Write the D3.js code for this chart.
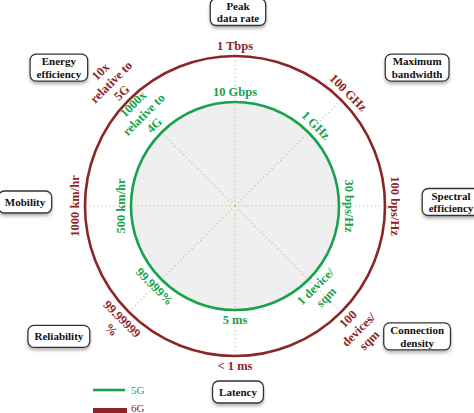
<!DOCTYPE html>
<html><head><meta charset="utf-8">
<script src="https://cdn.jsdelivr.net/npm/d3@7"></script>
<style>body{margin:0;background:#fff} svg{display:block}</style>
</head><body><svg id="c" width="474" height="413"></svg>
<script>
// ---- data ----
const metrics = ["Peak|data rate","Maximum|bandwidth","Spectral|efficiency","Connection|density","Latency","Reliability","Mobility","Energy|efficiency"];
const generations = ["5G","6G"];
const values5G = ["10 Gbps","1 GHz","30 bps/Hz","1 device/|sqm","5 ms","99.999%","500 km/hr","1000x|relative to|4G"];
const values6G = ["1 Tbps","100 GHz","100 bps/Hz","100|devices/|sqm","< 1 ms","99.99999|%","1000 km/hr","10x|relative to|5G"];

// ---- layout ----
const W = 474, H = 413, cx = 235, cy = 206;
const FONT = "'Liberation Serif','Times New Roman',serif";
const svg = d3.select("#c");
const angle = d3.scalePoint().domain(metrics).range([0, 315]);
const radius = d3.scaleOrdinal().domain(generations).range([104, 150]);
const color = d3.scaleOrdinal().domain(generations).range(["#17a24b", "#8c2626"]);
const valuesBy = {"5G": values5G, "6G": values6G};

const defs = svg.append("defs");
const f = defs.append("filter").attr("id","sh").attr("x","-20%").attr("y","-20%").attr("width","140%").attr("height","160%");
f.append("feDropShadow").attr("dx",0).attr("dy",2.5).attr("stdDeviation",1.6).attr("flood-color","#888").attr("flood-opacity",0.6);

const rad = a => a * Math.PI / 180;
const px = (a, d) => cx + d * Math.sin(rad(a));
const py = (a, d) => cy - d * Math.cos(rad(a));

// grey disk
svg.append("circle").attr("cx",cx).attr("cy",cy).attr("r",radius("5G")).attr("fill","#efefef");

// spokes
svg.append("g").selectAll("line").data(metrics).join("line")
  .attr("x1",cx).attr("y1",cy)
  .attr("x2",d=>px(angle(d),radius("6G"))).attr("y2",d=>py(angle(d),radius("6G")))
  .attr("stroke","#c4c48a").attr("stroke-width",1.2).attr("stroke-dasharray","1.2,2.8");

// rings
svg.append("g").selectAll("circle").data(generations).join("circle")
  .attr("cx",cx).attr("cy",cy).attr("r",d=>radius(d))
  .attr("fill","none").attr("stroke",d=>color(d)).attr("stroke-width",2.6);

// value labels
function placeLabel(g, text, a, r, col){
  const lines = text.split("|");
  const n = lines.length;
  const bottom = a > 90 && a < 270;
  let rot = a; if (bottom) rot = a - 180; else if (a >= 270) rot = a - 360;
  const lh = 15, gap = 10;
  lines.forEach((ln, i) => {
    const k = bottom ? i : (n - 1 - i);
    const d = r + gap + k * lh;
    g.append("text")
      .attr("transform", `translate(${px(a,d)},${py(a,d)}) rotate(${rot})`)
      .attr("text-anchor","middle").attr("dominant-baseline","central")
      .attr("font-family",FONT).attr("font-weight","bold").attr("font-size",12.5)
      .attr("fill",col).text(ln);
  });
}
const lab = svg.append("g");
generations.forEach(gen => {
  metrics.forEach((m, i) => placeLabel(lab, valuesBy[gen][i], angle(m), radius(gen), color(gen)));
});

// metric boxes
const bcx = 238, bcy = 202, bW = 213, bH = 190;
const boxes = svg.append("g");
metrics.forEach(m => {
  const a = angle(m), s = Math.sin(rad(a)), c = Math.cos(rad(a));
  const x = bcx + bW * Math.sign(s) * Math.sqrt(Math.abs(s) < 1e-9 ? 0 : Math.abs(s));
  const y = bcy - bH * c;
  const g = boxes.append("g").attr("transform",`translate(${x},${y})`);
  const lines = m.split("|");
  const lh = 12.5;
  const rect = g.append("rect");
  lines.forEach((ln, i) => {
    g.append("text").attr("x",0).attr("y",(i - (lines.length-1)/2) * lh)
      .attr("text-anchor","middle").attr("dominant-baseline","central")
      .attr("font-family",FONT).attr("font-weight","bold").attr("font-size",11)
      .attr("fill","#111").text(ln);
  });
  let tw = 0;
  g.selectAll("text").each(function(){ tw = Math.max(tw, this.getComputedTextLength()); });
  const bw = Math.max(50, tw + 13), bh = lines.length > 1 ? 27 : 22;
  rect.attr("x",-bw/2).attr("y",-bh/2).attr("width",bw).attr("height",bh).attr("rx",6)
    .attr("fill","#fff").attr("stroke","#333").attr("stroke-width",1.3).attr("filter","url(#sh)");
});

// legend
const ly = d3.scalePoint().domain(generations).range([390, 408]);
const leg = svg.append("g");
generations.forEach(gen => {
  if (gen === "5G") {
    leg.append("line").attr("x1",93).attr("x2",125).attr("y1",ly(gen)).attr("y2",ly(gen))
      .attr("stroke",color(gen)).attr("stroke-width",2.6);
  } else {
    leg.append("rect").attr("x",93).attr("y",ly(gen)).attr("width",34).attr("height",6).attr("fill",color(gen));
  }
  leg.append("text").attr("x",131).attr("y",ly(gen)).attr("dominant-baseline","central")
    .attr("font-family",FONT).attr("font-size",11).attr("fill",color(gen)).text(gen);
});
</script></body></html>
